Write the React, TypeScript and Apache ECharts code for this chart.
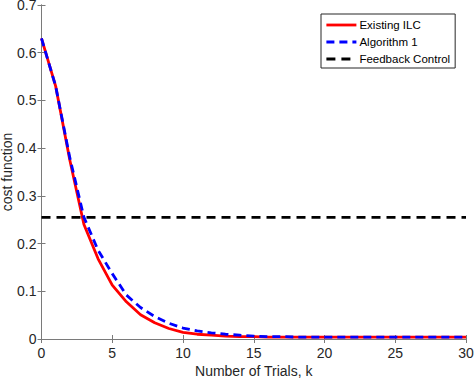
import React, { useEffect, useRef } from "react";
import * as echarts from "echarts";

const trials: number[] = Array.from({ length: 31 }, (_, i) => i);
const existingILC: number[] = [
  0.63, 0.53, 0.375, 0.24, 0.168, 0.113, 0.078, 0.051, 0.034, 0.022, 0.014,
  0.01, 0.008, 0.006, 0.005, 0.005, 0.004, 0.004, 0.004, 0.004, 0.004,
  0.004, 0.004, 0.004, 0.004, 0.004, 0.004, 0.004, 0.004, 0.004, 0.004,
];
const algorithm1: number[] = [
  0.63, 0.53, 0.38, 0.255, 0.186, 0.137, 0.092, 0.066, 0.047, 0.033, 0.023,
  0.017, 0.013, 0.01, 0.008, 0.006, 0.005, 0.005, 0.004, 0.004, 0.004,
  0.004, 0.004, 0.004, 0.004, 0.004, 0.004, 0.004, 0.004, 0.004, 0.004,
];
const feedbackControl = 0.255;
const seriesNames = ["Existing ILC", "Algorithm 1", "Feedback Control"];

const FONT = "'Liberation Sans', Arial, sans-serif";
const AXIS_LINE = "#7a7a7a";
const LABEL = "#262626";

export default function App() {
  const ref = useRef<HTMLDivElement>(null);
  useEffect(() => {
    if (!ref.current) return;
    const chart = echarts.init(ref.current, undefined, { renderer: "svg" });
    const axisCommon = {
      axisLine: { show: true, lineStyle: { color: AXIS_LINE, width: 1 } },
      axisTick: { show: true, inside: true, length: 4, lineStyle: { color: AXIS_LINE } },
      splitLine: { show: false },
    };
    chart.setOption({
      animation: false,
      backgroundColor: "#ffffff",
      textStyle: { fontFamily: FONT },
      grid: { left: 41.5, right: 8, top: 5, bottom: 42, outerBoundsMode: "none", containLabel: false },
      legend: {
        data: seriesNames,
        orient: "vertical",
        left: 321,
        top: 14,
        padding: [5, 5, 3, 4],
        itemWidth: 30,
        itemHeight: 12,
        itemGap: 5,
        borderColor: "#262626",
        borderWidth: 1,
        backgroundColor: "#ffffff",
        itemStyle: { opacity: 0 },
        lineStyle: { width: 2.8 },
        textStyle: { fontFamily: FONT, fontSize: 11.5, color: "#000", padding: [0, 0, 0, -2] },
      },
      xAxis: [
        {
          type: "value",
          min: 0,
          max: 30,
          interval: 5,
          name: "Number of Trials, k",
          nameLocation: "middle",
          nameGap: 25,
          nameMoveOverlap: false,
          nameTextStyle: { fontFamily: FONT, fontSize: 14, color: LABEL },
          axisLabel: { fontFamily: FONT, fontSize: 14, color: LABEL, margin: 7 },
          ...axisCommon,
        },
        {
          type: "value",
          position: "top",
          min: 0,
          max: 30,
          interval: 5,
          axisLabel: { show: false },
          ...axisCommon,
        },
      ],
      yAxis: [
        {
          type: "value",
          min: 0,
          max: 0.7,
          interval: 0.1,
          name: "cost function",
          nameLocation: "middle",
          nameGap: 28,
          nameMoveOverlap: false,
          nameTextStyle: { fontFamily: FONT, fontSize: 14, color: LABEL },
          axisLabel: { fontFamily: FONT, fontSize: 14, color: LABEL, margin: 5 },
          ...axisCommon,
        },
        {
          type: "value",
          position: "right",
          min: 0,
          max: 0.7,
          interval: 0.1,
          axisLabel: { show: false },
          ...axisCommon,
        },
      ],
      series: [
        {
          name: seriesNames[0],
          type: "line",
          data: trials.map((k, i) => [k, existingILC[i]]),
          symbol: "none",
          color: "#ff0000",
          lineStyle: { color: "#ff0000", width: 2.8 },
          z: 2,
        },
        {
          name: seriesNames[1],
          type: "line",
          data: trials.map((k, i) => [k, algorithm1[i]]),
          symbol: "none",
          color: "#0000ff",
          lineStyle: { color: "#0000ff", width: 2.8, type: [8, 5] },
          z: 3,
        },
        {
          name: seriesNames[2],
          type: "line",
          data: [
            [trials[0], feedbackControl],
            [trials[trials.length - 1], feedbackControl],
          ],
          symbol: "none",
          color: "#000000",
          lineStyle: { color: "#000000", width: 2.8, type: [9, 6] },
          z: 4,
        },
      ],
    });
    return () => chart.dispose();
  }, []);
  return (
    <div
      ref={ref}
      style={{ position: "fixed", left: 0, top: 0, width: 474, height: 381, background: "#fff" }}
    />
  );
}
